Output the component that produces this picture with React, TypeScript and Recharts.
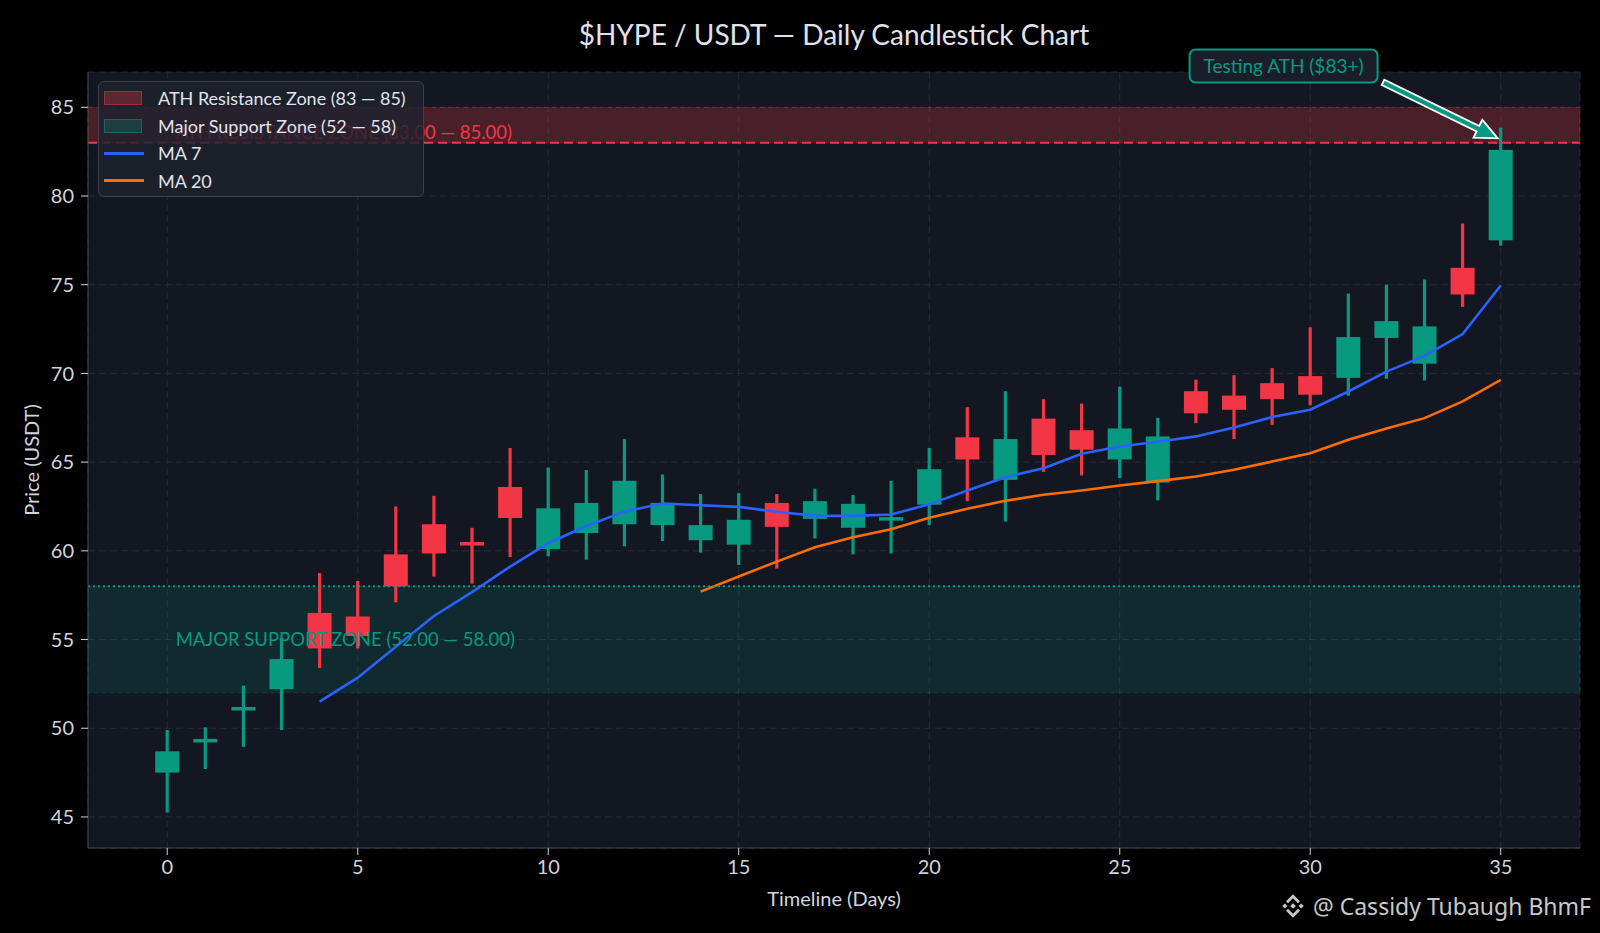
import React from "react";
import {
  ComposedChart, Bar, Line, XAxis, YAxis, CartesianGrid,
  ReferenceArea, ReferenceLine, ReferenceDot,
} from "recharts";

const GREEN = "#089981";
const RED = "#f23645";
const BLUE = "#2962ff";
const ORANGE = "#ff6d00";
const TEXT = "#d1d4dc";
const FONT = "Lato, sans-serif";

// day index on the x axis
const days = [0, 1, 2, 3, 4, 5, 6, 7, 8, 9, 10, 11, 12, 13, 14, 15, 16, 17, 18, 19, 20, 21, 22, 23, 24, 25, 26, 27, 28, 29, 30, 31, 32, 33, 34, 35];

const open = [47.5, 49.2, 51.0, 52.2, 56.5, 56.3, 59.8, 61.5, 60.5, 63.6, 60.1, 61.0, 61.5, 61.45, 60.6, 60.35, 62.7, 61.8, 61.3, 61.7, 62.6, 66.4, 64.0, 67.45, 66.8, 65.15, 63.85, 69.0, 68.75, 69.45, 69.85, 69.75, 72.0, 70.55, 75.95, 77.5];
const high = [49.9, 50.05, 52.4, 55.1, 58.75, 58.3, 62.5, 63.1, 61.3, 65.8, 64.7, 64.55, 66.3, 64.3, 63.2, 63.25, 63.2, 63.5, 63.15, 63.95, 65.8, 68.1, 69.0, 68.55, 68.3, 69.25, 67.5, 69.65, 69.9, 70.3, 72.6, 74.5, 75.0, 75.3, 78.45, 83.85];
const low = [45.25, 47.7, 48.95, 49.9, 53.4, 54.5, 57.1, 58.55, 58.15, 59.65, 59.7, 59.5, 60.25, 60.55, 59.9, 59.2, 59.0, 60.7, 59.8, 59.85, 61.45, 62.8, 61.65, 64.45, 64.25, 64.1, 62.85, 67.2, 66.3, 67.1, 68.2, 68.75, 69.7, 69.6, 73.75, 77.2];
const close = [48.7, 49.4, 51.2, 53.9, 54.5, 55.2, 58.0, 59.85, 60.3, 61.85, 62.4, 62.7, 63.95, 62.7, 61.45, 61.75, 61.35, 62.8, 62.65, 61.9, 64.6, 65.15, 66.3, 65.4, 65.7, 66.9, 66.45, 67.75, 67.95, 68.55, 68.8, 72.05, 72.95, 72.65, 74.45, 82.6];

const ma7 = [null, null, null, null, 51.5, 52.85, 54.6, 56.33, 57.67, 59.11, 60.43, 61.4, 62.21, 62.67, 62.57, 62.48, 62.2, 61.97, 61.97, 62.05, 62.62, 63.4, 64.15, 64.66, 65.47, 65.88, 66.15, 66.45, 66.95, 67.54, 67.95, 68.98, 70.1, 70.99, 72.22, 74.96];
const ma20 = [null, null, null, null, null, null, null, null, null, null, null, null, null, null, 57.7, 58.55, 59.39, 60.2, 60.77, 61.22, 61.86, 62.37, 62.82, 63.16, 63.4, 63.68, 63.93, 64.19, 64.57, 65.03, 65.5, 66.26, 66.9, 67.48, 68.42, 69.64];

const xTicks = [0, 5, 10, 15, 20, 25, 30, 35];
const yTicks = [45, 50, 55, 60, 65, 70, 75, 80, 85];

const data = days.map((d, i) => ({
  day: d,
  range: [low[i], high[i]],
  open: open[i],
  close: close[i],
  ma7: ma7[i],
  ma20: ma20[i],
}));

function Candle(props: any) {
  const { x, y, width, height, payload } = props;
  if (x == null || y == null || !payload) return null;
  const [lo, hi] = payload.range;
  const py = (v: number) => y + ((hi - v) / (hi - lo)) * height;
  const color = payload.close >= payload.open ? GREEN : RED;
  const cx = x + width / 2;
  const top = py(Math.max(payload.open, payload.close));
  const bot = py(Math.min(payload.open, payload.close));
  return (
    <g>
      <rect x={cx - 1.6} y={y} width={3.2} height={height} fill={color} />
      <rect x={x} y={top} width={width} height={Math.max(bot - top, 1.5)} fill={color} />
    </g>
  );
}

function Arrow(props: any) {
  const { x1, y1, x2, y2 } = props;
  if (x1 == null) return null;
  const len = Math.hypot(x2 - x1, y2 - y1);
  const ux = (x2 - x1) / len, uy = (y2 - y1) / len;
  const nx = -uy, ny = ux;
  const hl = 22, hw = 10, sw = 3;
  const bx = x2 - ux * hl, by = y2 - uy * hl;
  const p = (px: number, qy: number) => `${px.toFixed(1)},${qy.toFixed(1)}`;
  const pts = [
    p(x1 + nx * sw, y1 + ny * sw), p(bx + nx * sw, by + ny * sw), p(bx + nx * hw, by + ny * hw),
    p(x2, y2),
    p(bx - nx * hw, by - ny * hw), p(bx - nx * sw, by - ny * sw), p(x1 - nx * sw, y1 - ny * sw),
  ].join(" ");
  return <polygon points={pts} fill={GREEN} stroke="#ffffff" strokeWidth={1.8} strokeLinejoin="miter" />;
}

function AthBox(props: any) {
  const { cx, cy } = props;
  if (cx == null) return null;
  return (
    <g>
      <rect x={cx - 94} y={cy - 16.5} width={188} height={33} rx={6} fill="#1a1e29" stroke={GREEN} strokeWidth={2} />
      <text x={cx} y={cy} textAnchor="middle" dominantBaseline="central" fill={GREEN} fontSize={19} fontFamily={FONT}>
        Testing ATH ($83+)
      </text>
    </g>
  );
}

const zoneText = (label: string, color: string) => (props: any) => {
  const { cx, cy } = props;
  if (cx == null) return null;
  return (
    <text x={cx} y={cy} dominantBaseline="central" fill={color} fontSize={18.5} fontFamily={FONT}>
      {label}
    </text>
  );
};

function YLabel(props: any) {
  const vb = props.viewBox || {};
  const cx = 31;
  const cy = (vb.y ?? 72) + (vb.height ?? 776) / 2;
  return (
    <text x={cx} y={cy} transform={`rotate(-90 ${cx} ${cy})`} textAnchor="middle" dominantBaseline="central" fill={TEXT} fontSize={20} fontFamily={FONT}>
      Price (USDT)
    </text>
  );
}

function XLabel(props: any) {
  const vb = props.viewBox || {};
  const cx = (vb.x ?? 88) + (vb.width ?? 1492) / 2;
  return (
    <text x={cx} y={898} textAnchor="middle" dominantBaseline="central" fill={TEXT} fontSize={20} fontFamily={FONT}>
      Timeline (Days)
    </text>
  );
}

const legendRows = [
  { label: "ATH Resistance Zone (83 — 85)", kind: "patch", fill: "rgba(242,54,69,0.3)", edge: "rgba(242,54,69,0.45)" },
  { label: "Major Support Zone (52 — 58)", kind: "patch", fill: "rgba(8,153,129,0.25)", edge: "rgba(8,153,129,0.45)" },
  { label: "MA 7", kind: "line", fill: BLUE, edge: BLUE },
  { label: "MA 20", kind: "line", fill: ORANGE, edge: ORANGE },
];

function BinanceMark() {
  return (
    <svg width={28} height={28} viewBox="0 0 24 24" style={{ marginRight: 6 }}>
      <g fill="#c8c8c8">
        <path d="M12 9.6 L14.4 12 L12 14.4 L9.6 12 Z" />
        <path d="M5 9.8 L7.2 12 L5 14.2 L2.8 12 Z" />
        <path d="M19 9.8 L21.2 12 L19 14.2 L16.8 12 Z" />
        <path d="M12 2 L18 8 L16.3 9.7 L12 5.4 L7.7 9.7 L6 8 Z" />
        <path d="M12 22 L18 16 L16.3 14.3 L12 18.6 L7.7 14.3 L6 16 Z" />
      </g>
    </svg>
  );
}

export default function App() {
  return (
    <div style={{ position: "absolute", left: 0, top: 0, width: 1600, height: 933, background: "#000", fontFamily: FONT }}>
      <div style={{ position: "absolute", left: 434, width: 800, top: 14, textAlign: "center", color: "#e0e3eb", fontSize: 28, lineHeight: "40px" }}>
        $HYPE / USDT — Daily Candlestick Chart
      </div>

      <ComposedChart width={1600} height={933} data={data} margin={{ top: 72, right: 20, bottom: 0, left: 0 }}>
        <CartesianGrid horizontal={false} vertical={false} fill="#131722" />
        <XAxis
          dataKey="day" type="number" domain={[-2.08, 37.08]} ticks={xTicks} allowDataOverflow
          tick={{ fill: TEXT, fontSize: 20, fontFamily: FONT }} tickLine={{ stroke: TEXT }}
          axisLine={{ stroke: "#434651" }} tickSize={7} tickMargin={5} height={85}
          label={<XLabel />}
        />
        <YAxis
          type="number" domain={[43.25, 86.99]} ticks={yTicks} allowDataOverflow
          tick={{ fill: TEXT, fontSize: 20, fontFamily: FONT }} tickLine={{ stroke: TEXT }}
          axisLine={{ stroke: "#434651" }} tickSize={7} tickMargin={7} width={88}
          label={<YLabel />}
        />
        <Bar dataKey="range" barSize={24} shape={Candle} isAnimationActive={false} />
        <Line dataKey="ma20" stroke={ORANGE} strokeWidth={2.6} dot={false} connectNulls={false} isAnimationActive={false} />
        <Line dataKey="ma7" stroke={BLUE} strokeWidth={2.6} dot={false} connectNulls={false} isAnimationActive={false} />
        <ReferenceArea y1={83} y2={85} fill={RED} fillOpacity={0.25} stroke={RED} strokeOpacity={0.35} strokeDasharray="4 4" />
        <ReferenceArea y1={52} y2={58} fill={GREEN} fillOpacity={0.15} stroke={GREEN} strokeOpacity={0.3} strokeDasharray="4 4" />
        <CartesianGrid stroke="#2a2e39" strokeDasharray="7 4" strokeOpacity={0.9} />
        <ReferenceLine y={83} stroke={RED} strokeWidth={2} strokeDasharray="9 5" />
        <ReferenceLine y={58} stroke={GREEN} strokeWidth={2} strokeDasharray="2 3" />
        <ReferenceDot x={0.22} y={83.63} r={0} ifOverflow="visible" shape={zoneText("ATH RESISTANCE ZONE (83.00 — 85.00)", RED)} />
        <ReferenceDot x={0.22} y={55.05} r={0} ifOverflow="visible" shape={zoneText("MAJOR SUPPORT ZONE (52.00 — 58.00)", GREEN)} />
        <ReferenceLine segment={[{ x: 31.91, y: 86.41 }, { x: 34.92, y: 83.25 }]} ifOverflow="visible" shape={Arrow} />
        <ReferenceDot x={29.3} y={87.33} r={0} ifOverflow="visible" shape={AthBox} />
      </ComposedChart>

      <div style={{
        position: "absolute", left: 98, top: 81, width: 326, height: 116, boxSizing: "border-box",
        background: "rgba(31,34,45,0.82)", border: "1px solid #3b3f4a", borderRadius: 6, padding: "2px 0 0 0",
      }}>
        {legendRows.map((r) => (
          <div key={r.label} style={{ display: "flex", alignItems: "center", height: 27.7, color: "#e0e3eb", fontSize: 18 }}>
            <div style={{ width: 46, marginLeft: 5, display: "flex", alignItems: "center" }}>
              {r.kind === "patch" ? (
                <div style={{ width: 38, height: 14, background: r.fill, border: `1px solid ${r.edge}`, boxSizing: "border-box" }} />
              ) : (
                <div style={{ width: 40, height: 3, background: r.fill }} />
              )}
            </div>
            <div style={{ marginLeft: 8 }}>{r.label}</div>
          </div>
        ))}
      </div>

      <div style={{ position: "absolute", right: 9, top: 890, display: "flex", alignItems: "center", color: "#c8c8c8", fontSize: 23, fontFamily: "'Noto Sans', sans-serif", lineHeight: "32px" }}>
        <BinanceMark />@ Cassidy Tubaugh BhmF
      </div>
    </div>
  );
}
